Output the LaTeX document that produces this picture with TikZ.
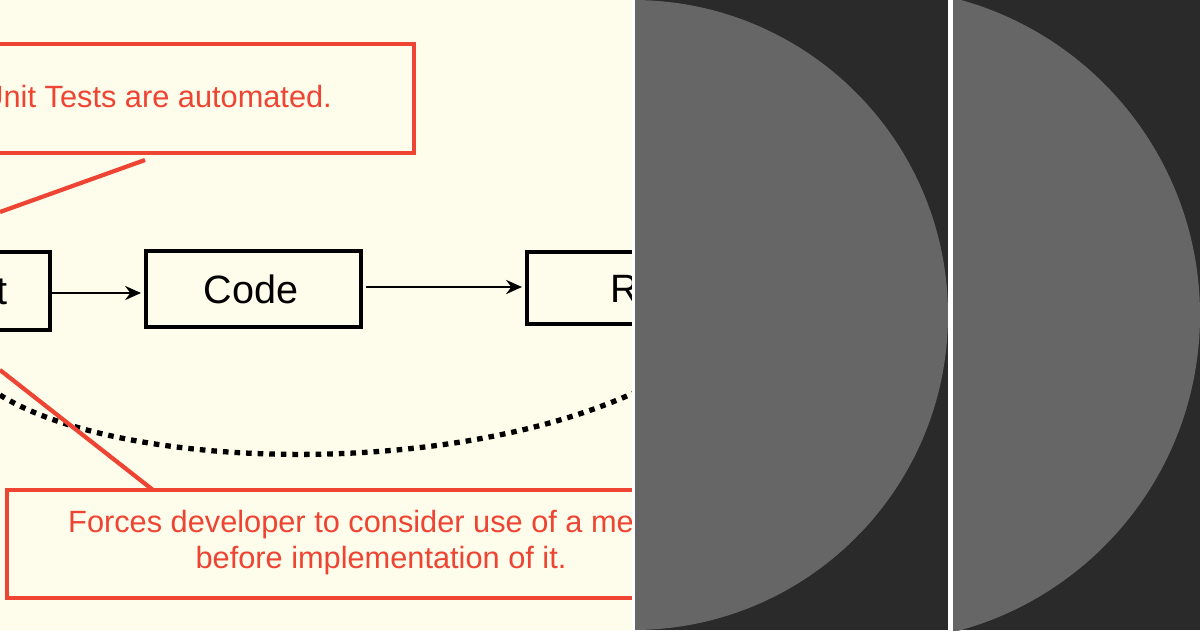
\documentclass[tikz,border=0pt]{standalone}
\usepackage{fontspec}
\setmainfont{Liberation Sans}
\usetikzlibrary{arrows.meta}
\definecolor{cream}{HTML}{FEFCEA}
\definecolor{dark}{HTML}{2A2A2A}
\definecolor{disc}{HTML}{666666}
\definecolor{callred}{HTML}{EE4433}
\begin{document}
\begin{tikzpicture}[x=0.02cm,y=-0.02cm,
  box/.style={draw=black,line width=2.6pt,fill=cream},
  call/.style={draw=callred,line width=2.4pt,fill=cream},
  ctext/.style={text=callred,font=\fontsize{17.5}{20.5}\selectfont},
  btext/.style={font=\fontsize{22.5}{26}\selectfont},
  arr/.style={-{Stealth[length=9pt,width=8pt]},line width=1.6pt}]
\useasboundingbox (0,0) rectangle (1200,630);
\begin{scope}
\clip (0,0) rectangle (632,630);
\fill[cream] (0,0) rectangle (632,630);
% dotted loop
\draw[line width=3pt,dash pattern=on 3.2pt off 3.4pt] (0,395) .. controls (120,470) and (450,480) .. (640,390);
% boxes
\draw[box] (-100,252) rectangle (50,330);
\node[btext,anchor=east] (test) at (14,291) {Test};
\draw[box] (146,251) rectangle (361,327);
\node[btext] (code) at (251,289) {Code};
\draw[box] (527,252) rectangle (720,324);
\node[btext,anchor=west] (ref) at (604,288) {Refactor};
\coordinate (t1) at (52,293); \coordinate (c1) at (141,293);
\coordinate (c2) at (366,287); \coordinate (r1) at (522,287);
\draw[arr] (t1) -- (c1);
\draw[arr] (c2) -- (r1);
% callouts
\draw[call] (-50,44) rectangle (414,153);
\node[ctext,anchor=east] (top) at (338,97) {Unit Tests are automated.};
\coordinate (p1) at (145,160); \coordinate (p2) at (0,212);
\draw[callred,line width=2.4pt] (p1) -- (p2);
\coordinate (q1) at (0,370); \coordinate (q2) at (153,490);
\draw[callred,line width=2.4pt] (q1) -- (q2);
\draw[call] (7,490) rectangle (760,598);
\node[ctext,align=center] (bot) at (381,543) {Forces developer to consider use of a method\\ before implementation of it.};
\end{scope}
% right panel
\fill[dark] (632,0) rectangle (1200,630);
\begin{scope}
\clip (635,0) rectangle (948,630);
\fill[disc] (633,315) circle (315);
\end{scope}
\begin{scope}
\clip (953,0) rectangle (1200,630);
\fill[disc] (873,315) circle (327);
\end{scope}
\fill[white] (632,0) rectangle (635,630);
\fill[white] (948,0) rectangle (953,630);
\end{tikzpicture}
\end{document}
